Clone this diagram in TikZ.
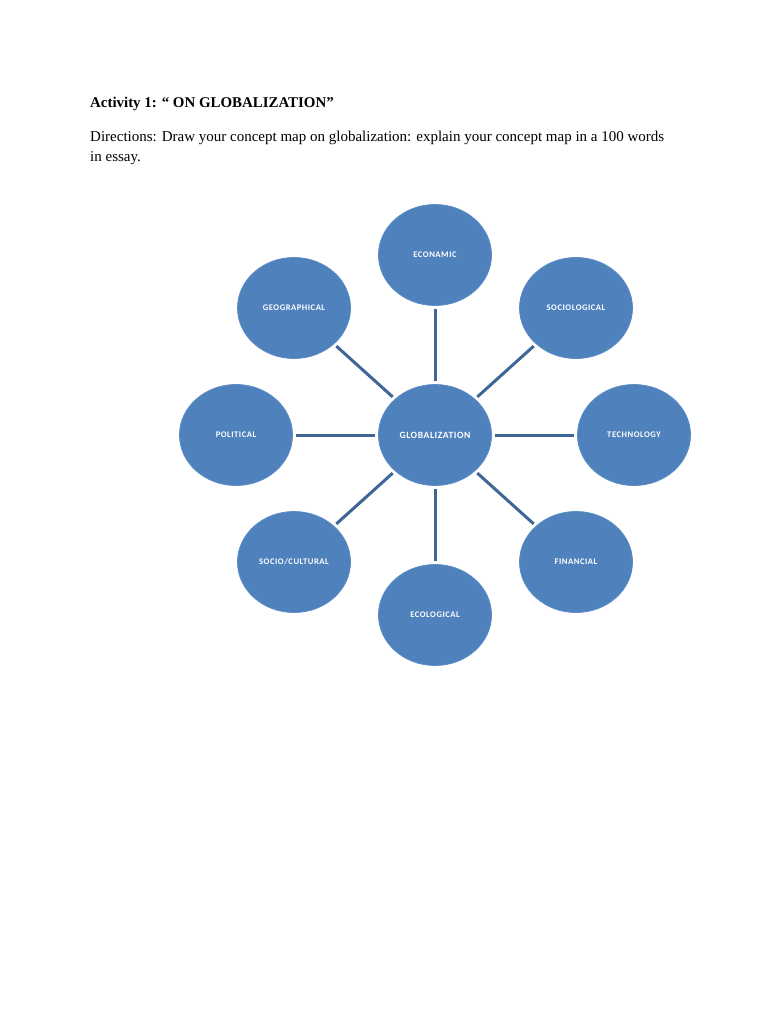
\documentclass[tikz,border=0pt]{standalone}
\usepackage{fontspec}
\usetikzlibrary{shapes.geometric}
\setmainfont{Liberation Serif}
\newfontfamily\lbl[LetterSpace=6]{Carlito}
\definecolor{bub}{HTML}{4F81BD}
\definecolor{bubedge}{HTML}{5B8CC6}
\definecolor{conn}{HTML}{3E6697}
\begin{document}
\begin{tikzpicture}[x=1pt,y=-1pt,
  bubble/.style={ellipse,fill=bub,draw=bubedge,line width=0.8pt,minimum width=113pt,minimum height=101pt,inner sep=0pt,text=white,font=\lbl\bfseries\fontsize{8.6}{9}\selectfont},
  link/.style={draw=conn,line width=3pt,shorten >=3pt,shorten <=3pt}]
\useasboundingbox (0,0) rectangle (768,1024);
\fill[white] (0,0) rectangle (768,1024);
\node[anchor=base west,font=\bfseries\fontsize{14.9}{16}\selectfont,inner sep=0pt] (title) at (90,108) {Activity 1: “ ON GLOBALIZATION”};
\node[anchor=base west,font=\fontsize{15}{16}\selectfont,inner sep=0pt] (dir1) at (90,142) {Directions: Draw your concept map on globalization: explain your concept map in a 100 words};
\node[anchor=base west,font=\fontsize{15}{16}\selectfont,inner sep=0pt] (dir2) at (90,162) {in essay.};
\node[bubble,font=\lbl\bfseries\fontsize{9.6}{10}\selectfont] (g) at (435,435) {GLOBALIZATION};
\node[bubble] (eco) at (435,255) {ECONAMIC};
\node[bubble] (geo) at (294,308) {GEOGRAPHICAL};
\node[bubble] (soc) at (576,308) {SOCIOLOGICAL};
\node[bubble] (pol) at (236,435) {POLITICAL};
\node[bubble] (tec) at (634,435) {TECHNOLOGY};
\node[bubble] (scu) at (294,562) {SOCIO/CULTURAL};
\node[bubble] (fin) at (576,562) {FINANCIAL};
\node[bubble] (ecl) at (435,615) {ECOLOGICAL};
\foreach \n in {eco,geo,soc,pol,tec,scu,fin,ecl} \draw[link] (g) -- (\n);
\end{tikzpicture}
\end{document}
